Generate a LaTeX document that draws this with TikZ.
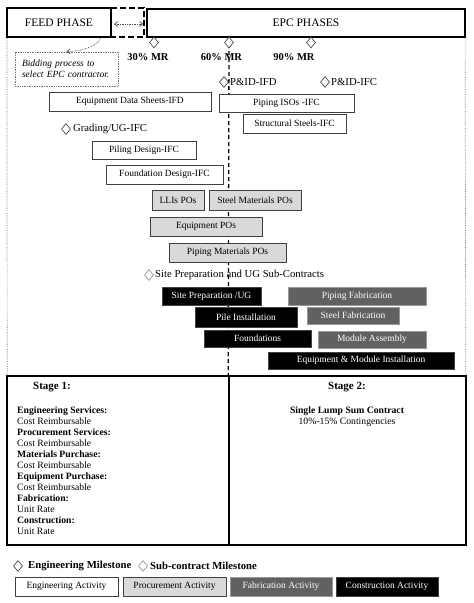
\documentclass[tikz,border=0pt]{standalone}
\usepackage{fontspec}
\setmainfont{Liberation Serif}
\usetikzlibrary{shapes.geometric,arrows.meta}
\begin{document}
\begin{tikzpicture}[x=1pt,y=-1pt,
  act/.style={draw=black!75, line width=0.7pt, rectangle, inner sep=0pt, font=\fontsize{9.5}{11}\selectfont},
  eng/.style={act, fill=white},
  proc/.style={act, fill=black!15},
  fab/.style={act, fill=black!62, draw=black!40, text=white},
  con/.style={act, fill=black, text=white},
  ms/.style={diamond, draw=black!80, fill=white, line width=0.6pt, minimum width=9pt, minimum height=11pt, inner sep=0pt},
  sms/.style={ms, draw=black!45},
  mtext/.style={font=\fontsize{10.7}{12}\selectfont, anchor=west, inner sep=0pt},
  mrtext/.style={font=\bfseries\fontsize{10.5}{12}\selectfont, inner sep=0pt},
  phase/.style={draw, line width=2.2pt, font=\fontsize{11.5}{13}\selectfont, inner sep=0pt},
  stagebox/.style={draw, line width=1.6pt, inner sep=0pt},
  sideline/.style={draw=black!55, densely dotted, line width=0.7pt},
  centerline/.style={draw, line width=1.3pt, dash pattern=on 4pt off 3pt},
]
\useasboundingbox (0,0) rectangle (474,603);

% phase header
\node[draw, line width=2.2pt, dash pattern=on 6pt off 3pt, minimum width=34pt, minimum height=29pt, inner sep=0pt] (gap) at (127,22.5) {};
\node[phase, fill=white, minimum width=104pt, minimum height=29pt] (feed) at (59,22.5) {FEED PHASE};
\node[phase, fill=white, minimum width=318pt, minimum height=28pt] (epc) at (306,23) {EPC PHASES};
\draw[densely dotted, line width=0.7pt, black!70, {Straight Barb[length=3pt,width=5pt]}-{Straight Barb[length=3pt,width=5pt]}] ([xshift=2pt,yshift=-1.5pt]feed.east) -- ([xshift=-2pt,yshift=-1.5pt]gap.east);

% bidding box
\node[draw=black!55, densely dotted, line width=0.7pt, minimum height=34pt, text width=89pt, inner xsep=7pt, inner ysep=0pt, align=left, font=\itshape\fontsize{9.5}{10.5}\selectfont] (bid) at (66.5,69) {Bidding process to\\select EPC contractor.};
\coordinate (gapfoot) at (102,37);
\draw[densely dotted, line width=0.7pt, black!70, -{Straight Barb[length=3pt,width=5pt]}] (gapfoot) .. controls (96,47) and (82,51) .. (bid.north);

% stage boxes (for side lines)
\node[stagebox, minimum width=222pt, minimum height=169pt] (st1) at (118,460.5) {};
\node[stagebox, minimum width=237pt, minimum height=169pt] (st2) at (347.5,460.5) {};

% side dotted lines
\draw[sideline] ([xshift=1pt]feed.south west) -- ([xshift=1pt]st1.north west);
\draw[sideline] ([xshift=-1pt]epc.south east) -- ([xshift=-1pt]st2.north east);

% milestone labels
\node[mrtext] (l30) at (148,57) {30\% MR};
\node[mrtext] (l60) at (221.5,57) {60\% MR};
\node[mrtext] (l90) at (294,57) {90\% MR};
\node[mtext] (tifd) at (230,82) {P\&ID-IFD};
\node[mtext] (tifc) at (331,82) {P\&ID-IFC};
\node[mtext] (tgr) at (73,129) {Grading/UG-IFC};
\node[mtext] (tsp) at (155,275) {Site Preparation and UG Sub-Contracts};

% center dashed line
\coordinate (ctop) at (229,37);
\draw[centerline] (ctop) -- (st2.north west);

% milestones
\node[ms] (m30) at (154,42.5) {};
\node[ms] (m60) at (229,42.5) {};
\node[ms] (m90) at (311,42.5) {};
\node[ms] (mifd) at (224,82) {};
\node[ms] (mifc) at (325,82) {};
\node[ms] (mgr) at (66,129) {};
\node[sms] (msp) at (149,275) {};

% engineering activities
\node[eng, minimum width=162pt, minimum height=19pt] (eds) at (130,101.5) {Equipment Data Sheets-IFD};
\node[eng, minimum width=135pt, minimum height=18pt] (piso) at (286.5,103) {Piping ISOs -IFC};
\node[eng, minimum width=103pt, minimum height=19pt] (sst) at (294.5,123.5) {Structural Steels-IFC};
\node[eng, minimum width=104pt, minimum height=18pt] (pdes) at (144,150) {Piling Design-IFC};
\node[eng, minimum width=117pt, minimum height=19pt] (fdes) at (164.5,174.5) {Foundation Design-IFC};

% procurement
\node[proc, minimum width=52pt, minimum height=20pt] (lli) at (178,200) {LLIs POs};
\node[proc, minimum width=92pt, minimum height=20pt] (smpo) at (255,200) {Steel Materials POs};
\node[proc, minimum width=112pt, minimum height=19pt] (eqpo) at (206,226.5) {Equipment POs};
\node[proc, minimum width=117pt, minimum height=19pt] (pmpo) at (227.5,252.5) {Piping Materials POs};

% construction & fabrication
\node[con, minimum width=99pt, minimum height=18pt] (sprep) at (211.5,296) {Site Preparation /UG};
\node[fab, minimum width=138pt, minimum height=18pt] (pfab) at (357,296) {Piping Fabrication};
\node[con, minimum width=102pt, minimum height=20pt] (pile) at (246,317) {Pile Installation};
\node[fab, minimum width=92pt, minimum height=17pt] (sfab) at (353,315.5) {Steel Fabrication};
\node[con, minimum width=107pt, minimum height=17pt] (fnd) at (257.5,338.5) {Foundations};
\node[fab, minimum width=108pt, minimum height=17pt] (masm) at (372,339.5) {Module Assembly};
\node[con, minimum width=186pt, minimum height=17pt] (emi) at (361,360.5) {Equipment \& Module Installation};

% stage texts
\node[font=\bfseries\fontsize{11}{13}\selectfont, inner sep=0pt] (s1) at (52,387) {Stage 1:};
\node[font=\bfseries\fontsize{11}{13}\selectfont, inner sep=0pt] (s2) at (347,387) {Stage 2:};
\node[anchor=north west, align=left, inner sep=0pt, font=\fontsize{9.7}{11}\selectfont] (s1txt) at (17,407) {\textbf{Engineering Services:}\\Cost Reimbursable\\\textbf{Procurement Services:}\\Cost Reimbursable\\\textbf{Materials Purchase:}\\Cost Reimbursable\\\textbf{Equipment Purchase:}\\Cost Reimbursable\\\textbf{Fabrication:}\\Unit Rate\\\textbf{Construction:}\\Unit Rate};
\node[anchor=north, align=center, inner sep=0pt, font=\fontsize{9.7}{11}\selectfont] (s2txt) at (347,407) {\textbf{Single Lump Sum Contract}\\10\%-15\% Contingencies};

% legend
\node[ms] (lgm1) at (18,566) {};
\node[mtext, font=\bfseries\fontsize{10.7}{12}\selectfont] (lgt1) at (28,566) {Engineering Milestone};
\node[sms] (lgm2) at (143,566) {};
\node[mtext, font=\bfseries\fontsize{10.7}{12}\selectfont] (lgt2) at (150,566) {Sub-contract Milestone};
\node[eng, minimum width=103pt, minimum height=19pt] (lge) at (66.5,586.5) {Engineering Activity};
\node[proc, minimum width=103pt, minimum height=19pt] (lgp) at (174.5,586.5) {Procurement Activity};
\node[fab, minimum width=102pt, minimum height=19pt] (lgf) at (281,586.5) {Fabrication Activity};
\node[con, minimum width=102pt, minimum height=19pt] (lgc) at (387,586.5) {Construction Activity};
\end{tikzpicture}
\end{document}
